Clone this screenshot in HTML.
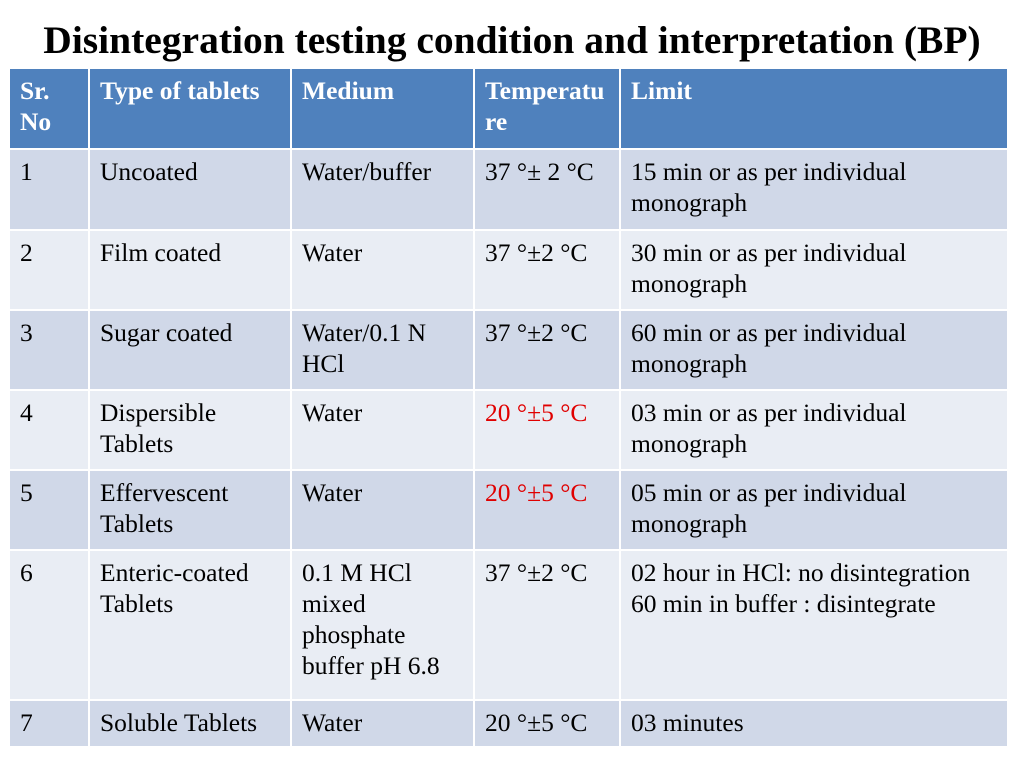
<!DOCTYPE html>
<html><head><meta charset="utf-8"><style>
body{margin:0;width:1024px;height:768px;background:#fff;position:relative;overflow:hidden;font-family:"Liberation Serif",serif}
h1{position:absolute;left:0;top:14px;width:1024px;margin:0;text-align:center;font-size:39.5px;font-weight:bold;color:#000;line-height:52px;white-space:nowrap}
table{position:absolute;left:8px;top:67px;border-collapse:collapse;table-layout:fixed}
td,th{border:2px solid #fff;vertical-align:top;text-align:left;font-size:25.5px;line-height:31px;padding:6px 10px 0 10px;font-weight:normal;color:#000}
th{background:#4F81BD;color:#fff;font-weight:bold;height:73px}
tr.o td{background:#D0D8E8}
tr.e td{background:#E9EDF4}
.r{color:#e00000}
</style></head><body>
<h1>Disintegration testing condition and interpretation (BP)</h1>
<table>
<colgroup><col style="width:80px"><col style="width:202px"><col style="width:183px"><col style="width:146px"><col style="width:388px"></colgroup>
<tr><th>Sr.<br>No</th><th>Type of tablets</th><th>Medium</th><th>Temperatu<br>re</th><th>Limit</th></tr>
<tr class="o" style="height:81px"><td>1</td><td>Uncoated</td><td>Water/buffer</td><td>37 °± 2 °C</td><td>15 min or as per individual monograph</td></tr>
<tr class="e" style="height:80px"><td>2</td><td>Film coated</td><td>Water</td><td>37 °±2 °C</td><td>30 min or as per individual monograph</td></tr>
<tr class="o" style="height:80px"><td>3</td><td>Sugar coated</td><td>Water/0.1 N HCl</td><td>37 °±2 °C</td><td>60 min or as per individual monograph</td></tr>
<tr class="e" style="height:80px"><td>4</td><td>Dispersible Tablets</td><td>Water</td><td class="r">20 °±5 °C</td><td>03 min or as per individual monograph</td></tr>
<tr class="o" style="height:80px"><td>5</td><td>Effervescent Tablets</td><td>Water</td><td class="r">20 °±5 °C</td><td>05 min or as per individual monograph</td></tr>
<tr class="e" style="height:150px"><td>6</td><td>Enteric-coated Tablets</td><td>0.1 M HCl mixed phosphate buffer pH 6.8</td><td>37 °±2 °C</td><td>02 hour in HCl: no disintegration<br>60 min in buffer : disintegrate</td></tr>
<tr class="o" style="height:47px"><td>7</td><td>Soluble Tablets</td><td>Water</td><td>20 °±5 °C</td><td>03 minutes</td></tr>
</table>
</body></html>
